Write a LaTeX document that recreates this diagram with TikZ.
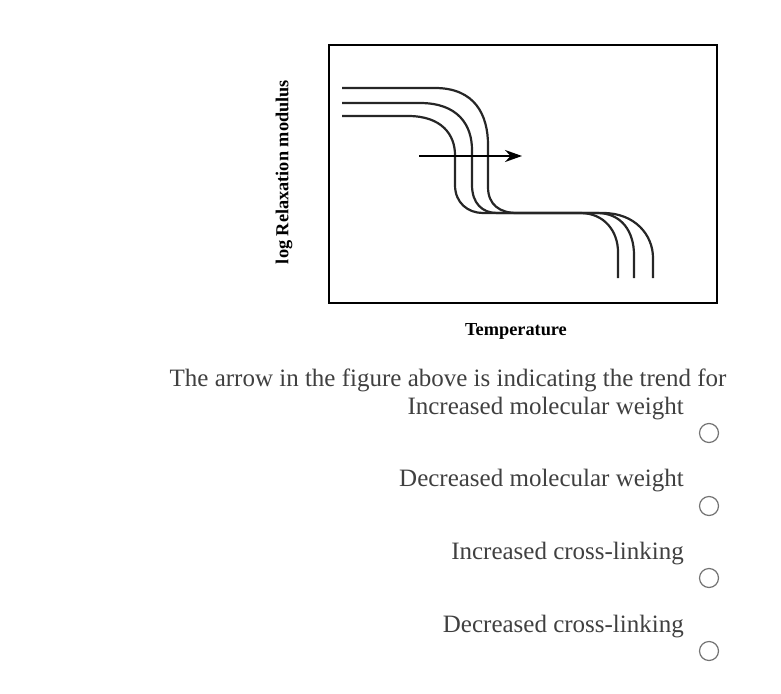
\documentclass[tikz,border=0pt]{standalone}
\usepackage{fontspec}
\setmainfont{Liberation Serif}
\usetikzlibrary{arrows.meta}
\begin{document}
\begin{tikzpicture}[x=1pt,y=-1pt,
  curve/.style={line width=2.2pt,black!85},
  lbl/.style={font=\fontsize{18.3}{20}\selectfont\bfseries,inner sep=0pt},
  qtext/.style={font=\fontsize{25}{28}\selectfont,text=black!75,inner sep=0pt},
  radio/.style={draw=black!55,line width=1.2pt,circle,minimum size=19pt,inner sep=0pt}]
\useasboundingbox (0,0) rectangle (781,693);
\node[draw,line width=1.8pt,minimum width=388pt,minimum height=258pt,inner sep=0pt,anchor=north west] (box) at (328,44) {};
\draw[curve] (342,88)--(435,88) .. controls (475,88) and (488,115) .. (488,145) -- (488,187) .. controls (488,205) and (500,213) .. (517,213) -- (603,213) .. controls (635,213) and (653,235) .. (653,258) -- (653,278);
\draw[curve] (342,103)--(420,103) .. controls (458,103) and (472,125) .. (472,150) -- (472,185) .. controls (472,203) and (482,213) .. (497,213) -- (597,213) .. controls (622,213) and (634,232) .. (634,255) -- (634,278);
\draw[curve] (342,116)--(408,116) .. controls (442,116) and (455,135) .. (455,155) -- (455,185) .. controls (455,203) and (468,213) .. (483,213) -- (580,213) .. controls (605,213) and (618,232) .. (618,252) -- (618,278);
\coordinate (as) at (419,156);
\coordinate (ae) at (522,156);
\draw[line width=2.2pt,-{Stealth[length=17pt,width=12pt]}] (as) -- (ae);
\node[lbl,rotate=90] (ylab) at (284,172) {log Relaxation modulus};
\node[lbl] (xlab) at (516,331) {Temperature};
\node[qtext] (q) at (448,380) {The arrow in the figure above is indicating the trend for};
\node[qtext,anchor=east] (o1) at (684,409) {Increased molecular weight};
\node[qtext,anchor=east] (o2) at (684,481) {Decreased molecular weight};
\node[qtext,anchor=east] (o3) at (684,554) {Increased cross-linking};
\node[qtext,anchor=east] (o4) at (684,627) {Decreased cross-linking};
\node[radio] (r1) at (709,433) {};
\node[radio] (r2) at (709,506) {};
\node[radio] (r3) at (709,578) {};
\node[radio] (r4) at (709,651) {};
\end{tikzpicture}
\end{document}
